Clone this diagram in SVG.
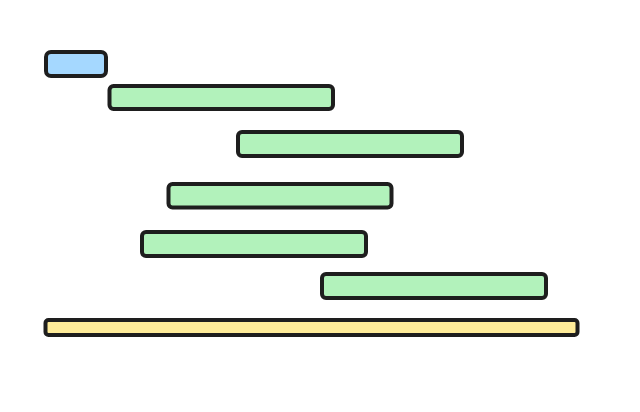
<svg xmlns="http://www.w3.org/2000/svg" width="640" height="412" viewBox="0 0 640 412">
<style>
.bar{stroke:#1e1e1e;stroke-width:4;stroke-linejoin:round}
.blue{fill:#a5d8ff}
.green{fill:#b2f2bb}
.yellow{fill:#ffec99}
</style>
<rect width="640" height="412" fill="#ffffff"/>
<g id="task0"><rect class="bar blue" x="46" y="52" width="60" height="24" rx="5"/></g>
<g id="task1"><rect class="bar green" x="109.5" y="86" width="223.5" height="23" rx="4"/></g>
<g id="task2"><rect class="bar green" x="238" y="132" width="224" height="24" rx="4"/></g>
<g id="task3"><rect class="bar green" x="168.5" y="184" width="223" height="23.5" rx="4"/></g>
<g id="task4"><rect class="bar green" x="142" y="232" width="224" height="24" rx="4"/></g>
<g id="task5"><rect class="bar green" x="322" y="274" width="224" height="24" rx="4"/></g>
<g id="task6"><rect class="bar yellow" x="45.5" y="320" width="532" height="15" rx="3"/></g>
<g id="connectors"></g>
</svg>
